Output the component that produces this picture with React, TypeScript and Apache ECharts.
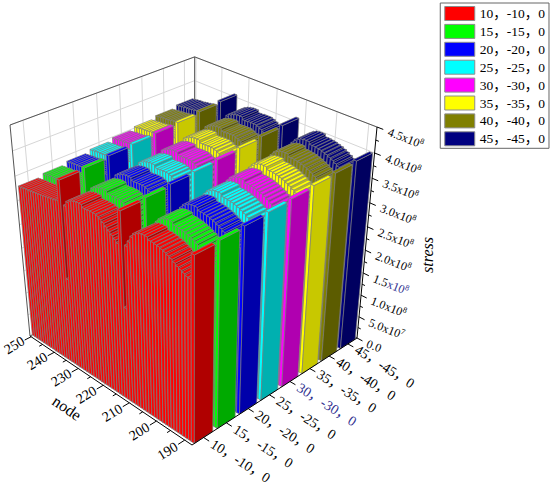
import React, { useEffect, useRef } from "react";
import * as echarts from "echarts";

// ---------- data ----------
const NODES = [
  250, 249, 248, 247, 246, 245, 244, 243, 242, 241,
  240, 239, 238, 237, 236, 235, 234, 233, 232, 231,
  230, 229, 228, 227, 226, 225, 224, 223, 222, 221,
  220, 219, 218, 217, 216, 215, 214, 213, 212, 211,
  210, 209, 208, 207, 206, 205, 204, 203, 202, 201,
  200, 199, 198, 197, 196, 195, 194, 193, 192, 191,
  190, 189, 188,
];

const CASE_NAMES = [
  "10，-10，0", "15，-15，0", "20，-20，0", "25，-25，0",
  "30，-30，0", "35，-35，0", "40，-40，0", "45，-45，0",
];

const FACE_COLORS = ["#ff0000", "#00ff00", "#0000ff", "#00ffff", "#ff00ff", "#ffff00", "#808000", "#000080"];
const SIDE_COLORS = ["#b00000", "#00aa00", "#0000aa", "#00b0b0", "#b000b0", "#c8c800", "#5c5c00", "#000060"];

// stress values in units of 1e8, order follows NODES (250 -> 188)
const STRESS_10 = [
  3.28, 3.29, 3.30, 3.31, 3.31, 3.32, 3.33, 3.34, 3.35, 3.36, 3.37, 3.38, 3.39, 3.40, 3.41, 3.43,
  3.86, 1.86,
  3.40, 3.50, 3.55, 3.58, 3.60, 3.61, 3.61, 3.56, 3.56, 3.57, 3.57, 3.57, 3.55, 3.52, 3.48, 3.43, 3.38, 3.33, 3.28, 3.23,
  3.89, 2.00,
  3.27, 3.38, 3.50, 3.58, 3.63, 3.66, 3.67, 3.67, 3.62, 3.62, 3.61, 3.60, 3.58, 3.56, 3.53, 3.50, 3.46, 3.42, 3.39, 3.36, 3.33, 3.32,
  3.80,
];
const STRESS_15 = [
  3.33, 3.34, 3.35, 3.36, 3.36, 3.37, 3.38, 3.39, 3.40, 3.41, 3.42, 3.43, 3.44, 3.45, 3.46, 3.48,
  3.89, 1.91,
  3.45, 3.55, 3.60, 3.63, 3.65, 3.66, 3.66, 3.61, 3.61, 3.62, 3.62, 3.62, 3.60, 3.57, 3.53, 3.48, 3.43, 3.38, 3.33, 3.28,
  3.92, 2.05,
  3.32, 3.43, 3.55, 3.63, 3.68, 3.71, 3.72, 3.72, 3.67, 3.67, 3.66, 3.65, 3.63, 3.61, 3.58, 3.55, 3.51, 3.47, 3.44, 3.41, 3.38, 3.37,
  3.83,
];
const STRESS_20 = [
  3.38, 3.39, 3.40, 3.41, 3.41, 3.42, 3.43, 3.44, 3.45, 3.46, 3.47, 3.48, 3.49, 3.50, 3.51, 3.53,
  3.93, 1.96,
  3.50, 3.60, 3.65, 3.68, 3.70, 3.71, 3.71, 3.66, 3.66, 3.67, 3.67, 3.67, 3.65, 3.62, 3.58, 3.53, 3.48, 3.43, 3.38, 3.33,
  3.96, 2.10,
  3.37, 3.48, 3.60, 3.68, 3.73, 3.76, 3.77, 3.77, 3.72, 3.72, 3.71, 3.70, 3.68, 3.66, 3.63, 3.60, 3.56, 3.52, 3.49, 3.46, 3.43, 3.42,
  3.86,
];
const STRESS_25 = [
  3.43, 3.44, 3.45, 3.46, 3.46, 3.47, 3.48, 3.49, 3.50, 3.51, 3.52, 3.53, 3.54, 3.55, 3.56, 3.58,
  3.96, 2.01,
  3.55, 3.65, 3.70, 3.73, 3.75, 3.76, 3.76, 3.71, 3.71, 3.72, 3.72, 3.72, 3.70, 3.67, 3.63, 3.58, 3.53, 3.48, 3.43, 3.38,
  3.99, 2.15,
  3.42, 3.53, 3.65, 3.73, 3.78, 3.81, 3.82, 3.82, 3.77, 3.77, 3.76, 3.75, 3.73, 3.71, 3.68, 3.65, 3.61, 3.57, 3.54, 3.51, 3.48, 3.47,
  3.89,
];
const STRESS_30 = [
  3.48, 3.49, 3.50, 3.51, 3.51, 3.52, 3.53, 3.54, 3.55, 3.56, 3.57, 3.58, 3.59, 3.60, 3.61, 3.63,
  3.99, 2.06,
  3.60, 3.70, 3.75, 3.78, 3.80, 3.81, 3.81, 3.76, 3.76, 3.77, 3.77, 3.77, 3.75, 3.72, 3.68, 3.63, 3.58, 3.53, 3.48, 3.43,
  4.02, 2.20,
  3.47, 3.58, 3.70, 3.78, 3.83, 3.86, 3.87, 3.87, 3.82, 3.82, 3.81, 3.80, 3.78, 3.76, 3.73, 3.70, 3.66, 3.62, 3.59, 3.56, 3.53, 3.52,
  3.92,
];
const STRESS_35 = [
  3.53, 3.54, 3.55, 3.56, 3.56, 3.57, 3.58, 3.59, 3.60, 3.61, 3.62, 3.63, 3.64, 3.65, 3.66, 3.68,
  4.02, 2.11,
  3.65, 3.75, 3.80, 3.83, 3.85, 3.86, 3.86, 3.81, 3.81, 3.82, 3.82, 3.82, 3.80, 3.77, 3.73, 3.68, 3.63, 3.58, 3.53, 3.48,
  4.05, 2.25,
  3.52, 3.63, 3.75, 3.83, 3.88, 3.91, 3.92, 3.92, 3.87, 3.87, 3.86, 3.85, 3.83, 3.81, 3.78, 3.75, 3.71, 3.67, 3.64, 3.61, 3.58, 3.57,
  3.96,
];
const STRESS_40 = [
  3.58, 3.59, 3.60, 3.61, 3.61, 3.62, 3.63, 3.64, 3.65, 3.66, 3.67, 3.68, 3.69, 3.70, 3.71, 3.73,
  4.06, 2.16,
  3.70, 3.80, 3.85, 3.88, 3.90, 3.91, 3.91, 3.86, 3.86, 3.87, 3.87, 3.87, 3.85, 3.82, 3.78, 3.73, 3.68, 3.63, 3.58, 3.53,
  4.09, 2.30,
  3.57, 3.68, 3.80, 3.88, 3.93, 3.96, 3.97, 3.97, 3.92, 3.92, 3.91, 3.90, 3.88, 3.86, 3.83, 3.80, 3.76, 3.72, 3.69, 3.66, 3.63, 3.62,
  3.99,
];
const STRESS_45 = [
  3.63, 3.64, 3.65, 3.66, 3.66, 3.67, 3.68, 3.69, 3.70, 3.71, 3.72, 3.73, 3.74, 3.75, 3.76, 3.78,
  4.09, 2.21,
  3.75, 3.85, 3.90, 3.93, 3.95, 3.96, 3.96, 3.91, 3.91, 3.92, 3.92, 3.92, 3.90, 3.87, 3.83, 3.78, 3.73, 3.68, 3.63, 3.58,
  4.12, 2.35,
  3.62, 3.73, 3.85, 3.93, 3.98, 4.01, 4.02, 4.02, 3.97, 3.97, 3.96, 3.95, 3.93, 3.91, 3.88, 3.85, 3.81, 3.77, 3.74, 3.71, 3.68, 3.67,
  4.02,
];
const STRESS_ROWS = [STRESS_10, STRESS_15, STRESS_20, STRESS_25, STRESS_30, STRESS_35, STRESS_40, STRESS_45];

const NODE_TICKS = [190, 200, 210, 220, 230, 240, 250];
const NODE_MINOR_TICKS = [195, 205, 215, 225, 235, 245];
const STRESS_TICKS = [0, 0.5, 1, 1.5, 2, 2.5, 3, 3.5, 4, 4.5];
const STRESS_MINOR_TICKS = [0.25, 0.75, 1.25, 1.75, 2.25, 2.75, 3.25, 3.75, 4.25];
const STRESS_TICK_TEXT = [
  "0.0", "5.0x10{e|7}", "1.0x10{e|8}", "1.5{b|x10}{be|8}", "2.0x10{e|8}",
  "2.5x10{e|8}", "3.0x10{e|8}", "3.5x10{e|8}", "4.0x10{e|8}", "4.5x10{e|8}",
];

// ---------- layout ----------
const W = 550;
const H = 494;
const SERIF = "Liberation Serif, Noto Sans CJK SC";
const EDGE = "#808080";

// perspective camera: u along node axis (0 at 250.5, 1 at 187.5),
// v along load-case axis (0 front, 1 back), w height (0..1 of stress range)
function proj(u: number, v: number, w: number): number[] {
  const d = 1 - 0.12 * u + 0.119 * v - 0.109 * w;
  return [
    (30 + 138.96 * u + 187.68 * v - 21.09 * w) / d,
    (336 + 55.6 * u - 53.93 * v - 224.62 * w) / d,
  ];
}

const NCASE = CASE_NAMES.length;

function makeRender(k: number) {
  return (params: any, api: any) => {
    const cs = params.coordSys;
    const node = api.value(0);
    const val = api.value(1);
    const pa = api.coord([node + 0.5, 0]);
    const pb = api.coord([node - 0.5, val]);
    const u0 = (pa[0] - cs.x) / cs.width;
    const u1 = (pb[0] - cs.x) / cs.width;
    const w = (cs.y + cs.height - pb[1]) / cs.height;
    const v0 = (k + 0.1) / NCASE;
    const v1 = (k + 0.9) / NCASE;
    const front = [proj(u0, v0, 0), proj(u1, v0, 0), proj(u1, v0, w), proj(u0, v0, w)];
    const side = [proj(u1, v0, 0), proj(u1, v1, 0), proj(u1, v1, w), proj(u1, v0, w)];
    const top = [proj(u0, v0, w), proj(u1, v0, w), proj(u1, v1, w), proj(u0, v1, w)];
    const st = (fill: string) => ({ fill, stroke: EDGE, lineWidth: 0.7 });
    return {
      type: "group",
      children: [
        { type: "polygon", shape: { points: front }, style: st(FACE_COLORS[k]) },
        { type: "polygon", shape: { points: side }, style: st(SIDE_COLORS[k]) },
        { type: "polygon", shape: { points: top }, style: st(FACE_COLORS[k]) },
      ],
    };
  };
}

function line(a: number[], b: number[], stroke: string, lw: number, z: number) {
  return {
    type: "line",
    silent: true,
    z,
    shape: { x1: a[0], y1: a[1], x2: b[0], y2: b[1] },
    style: { stroke, lineWidth: lw },
  };
}

export default function App() {
  const ref = useRef<HTMLDivElement>(null);

  useEffect(() => {
    if (!ref.current) return;
    const chart = echarts.init(ref.current, null, { renderer: "svg" });

    const series: any[] = [];
    for (let k = NCASE - 1; k >= 0; k--) {
      series.push({
        type: "custom",
        name: CASE_NAMES[k],
        coordinateSystem: "cartesian2d",
        renderItem: makeRender(k),
        data: NODES.map((n, i) => [n, STRESS_ROWS[k][i]]),
        encode: { x: 0, y: 1 },
        itemStyle: { color: FACE_COLORS[k] },
        clip: false,
        silent: true,
        z: 2,
      });
    }

    chart.setOption({
      animation: false,
      textStyle: { fontFamily: SERIF },
      grid: { left: 0, top: 0, width: W, height: H, show: false },
      xAxis: { type: "value", min: 187.5, max: 250.5, inverse: true, show: false },
      yAxis: { type: "value", min: 0, max: 4.5, show: false },
      legend: {
        orient: "vertical",
        right: 1,
        top: 3,
        icon: "rect",
        itemWidth: 30,
        itemHeight: 14,
        itemGap: 2.9,
        itemTextGap: 4,
        padding: [3, 4, 2, 4],
        borderColor: "#666",
        borderWidth: 1,
        selectedMode: false,
        itemStyle: { borderColor: "#8c8c8c", borderWidth: 1 },
        textStyle: { fontFamily: SERIF, fontSize: 13.5, color: "#000" },
        data: CASE_NAMES.map((name) => ({ name })),
      },
      series,
    });

    const uOf = (node: number) => (chart.convertToPixel({ xAxisIndex: 0 }, node) as number) / W;
    const wOf = (val: number) => (H - (chart.convertToPixel({ yAxisIndex: 0 }, val) as number)) / H;
    const vOf = (k: number) => (k + 0.5) / NCASE;

    const g: any[] = [];
    const GRID = "#d6d6d6";
    const FRAME = "#555555";
    // floor grid
    NODE_TICKS.forEach((n) => g.push(line(proj(uOf(n), 0, 0), proj(uOf(n), 1, 0), GRID, 1, 0)));
    CASE_NAMES.forEach((_, k) => g.push(line(proj(0, vOf(k), 0), proj(1, vOf(k), 0), GRID, 1, 0)));
    // left wall (u = 0)
    STRESS_TICKS.forEach((t) => g.push(line(proj(0, 0, wOf(t)), proj(0, 1, wOf(t)), GRID, 1, 0)));
    CASE_NAMES.forEach((_, k) => g.push(line(proj(0, vOf(k), 0), proj(0, vOf(k), 1), GRID, 1, 0)));
    // back wall (v = 1)
    STRESS_TICKS.forEach((t) => g.push(line(proj(0, 1, wOf(t)), proj(1, 1, wOf(t)), GRID, 1, 0)));
    NODE_TICKS.forEach((n) => g.push(line(proj(uOf(n), 1, 0), proj(uOf(n), 1, 1), GRID, 1, 0)));
    // frame edges
    g.push(line(proj(0, 0, 0), proj(0, 0, 1), FRAME, 1, 1));
    g.push(line(proj(0, 1, 0), proj(0, 1, 1), FRAME, 1, 1));
    g.push(line(proj(0, 0, 1), proj(0, 1, 1), FRAME, 1, 1));
    g.push(line(proj(0, 1, 1), proj(1, 1, 1), FRAME, 1, 1));
    g.push(line(proj(0, 0, 0), proj(0, 1, 0), FRAME, 1, 1));
    g.push(line(proj(0, 1, 0), proj(1, 1, 0), FRAME, 1, 1));

    // axes
    const AX = "#000";
    g.push(line(proj(0, 0, 0), proj(1, 0, 0), AX, 1, 10));
    g.push(line(proj(1, 0, 0), proj(1, 1, 0), AX, 1, 10));
    g.push(line(proj(1, 1, 0), proj(1, 1, 1), AX, 1, 10));

    // node axis ticks + labels
    NODE_TICKS.forEach((n) => {
      const u = uOf(n);
      g.push(line(proj(u, 0, 0), proj(u, -0.035, 0), AX, 1, 10));
      const p = proj(u, -0.09, 0);
      g.push({
        type: "text", silent: true, z: 10, x: p[0], y: p[1], rotation: 0.55,
        style: { text: String(n), fill: "#000", fontFamily: SERIF, fontSize: 14, align: "center", verticalAlign: "middle" },
      });
    });
    NODE_MINOR_TICKS.forEach((n) => {
      const u = uOf(n);
      g.push(line(proj(u, 0, 0), proj(u, -0.018, 0), AX, 1, 10));
    });

    // load-case axis ticks + labels
    CASE_NAMES.forEach((name, k) => {
      const v = vOf(k);
      g.push(line(proj(1, v, 0), proj(1.03, v, 0), AX, 1, 10));
      const p = proj(1.045, v, 0);
      g.push({
        type: "text", silent: true, z: 10, x: p[0], y: p[1], rotation: -0.57,
        style: {
          text: name, fill: k === 4 ? "#2f2f8f" : "#000", fontFamily: SERIF, fontSize: 14,
          align: "left", verticalAlign: "middle",
        },
      });
    });

    // stress axis ticks + labels
    STRESS_TICKS.forEach((t, i) => {
      const w = wOf(t);
      g.push(line(proj(1, 1, w), proj(1.03, 1, w), AX, 1, 10));
      const p = proj(1.055, 1, w);
      g.push({
        type: "text", silent: true, z: 10, x: p[0], y: p[1], rotation: -0.37,
        style: {
          text: STRESS_TICK_TEXT[i], fill: "#000", fontFamily: SERIF, fontSize: 12,
          align: "left", verticalAlign: "middle",
          rich: {
            e: { fontFamily: SERIF, fontSize: 8, padding: [0, 0, 6, 0] },
            b: { fontFamily: SERIF, fontSize: 12, fill: "#2f2f8f", color: "#2f2f8f" },
            be: { fontFamily: SERIF, fontSize: 8, padding: [0, 0, 6, 0], fill: "#2f2f8f", color: "#2f2f8f" },
          },
        },
      });
    });
    STRESS_MINOR_TICKS.forEach((t) => {
      const w = wOf(t);
      g.push(line(proj(1, 1, w), proj(1.015, 1, w), AX, 1, 10));
    });

    // axis titles
    g.push({
      type: "text", silent: true, z: 10, x: 67, y: 408, rotation: -0.6,
      style: { text: "node", fill: "#000", fontFamily: SERIF, fontSize: 16, align: "center", verticalAlign: "middle" },
    });
    g.push({
      type: "text", silent: true, z: 10, x: 427, y: 255, rotation: Math.PI / 2,
      style: {
        text: "stress", fill: "#000", fontFamily: SERIF, fontSize: 16, fontStyle: "italic",
        align: "center", verticalAlign: "middle",
      },
    });

    chart.setOption({ graphic: { elements: g } });

    return () => chart.dispose();
  }, []);

  return (
    <div
      ref={ref}
      style={{ position: "absolute", left: 0, top: 0, width: W, height: H, background: "#fff" }}
    />
  );
}
